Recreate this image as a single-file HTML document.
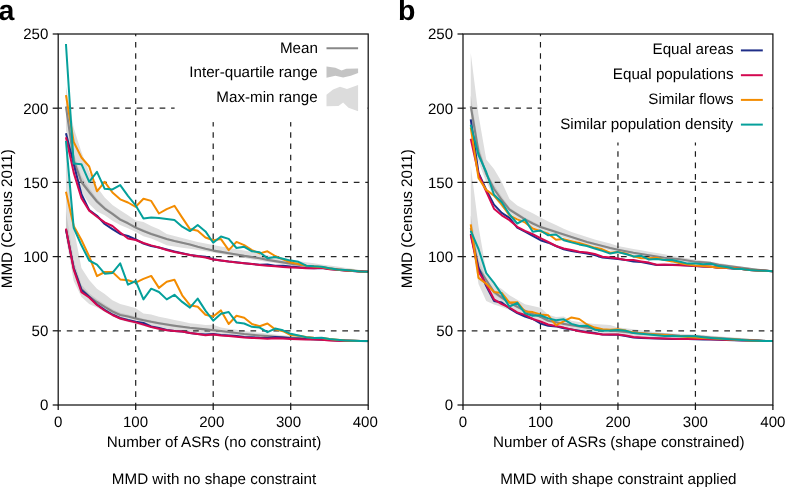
<!DOCTYPE html><html><head><meta charset="utf-8"><style>html,body{margin:0;padding:0;background:#fff;width:785px;height:487px;overflow:hidden}</style></head><body><svg width="785" height="487" viewBox="0 0 785 487" style="display:block;text-rendering:geometricPrecision"><rect width="785" height="487" fill="#fff"/><clipPath id="clipa"><rect x="58.2" y="34.0" width="310.00" height="371.0"/></clipPath><g clip-path="url(#clipa)"><path d="M65.95,86.00 L73.70,128.00 L81.45,152.00 L89.20,172.00 L96.95,187.00 L104.70,197.50 L112.45,205.00 L120.20,210.30 L127.95,215.30 L135.70,220.50 L143.45,222.00 L151.20,226.00 L158.95,229.20 L166.70,234.00 L174.45,236.00 L182.20,238.00 L189.95,240.00 L197.70,242.00 L205.45,243.50 L213.20,245.00 L220.95,246.40 L228.70,247.80 L236.45,249.20 L244.20,250.60 L251.95,252.00 L259.70,253.60 L267.45,255.20 L275.20,256.80 L282.95,258.40 L290.70,260.00 L298.45,261.10 L306.20,262.20 L313.95,263.30 L321.70,264.40 L329.45,265.50 L337.20,266.60 L344.95,267.70 L352.70,268.80 L360.45,269.90 L368.20,271.00 L368.20,272.20 L360.45,271.66 L352.70,271.12 L344.95,270.58 L337.20,270.04 L329.45,269.50 L321.70,268.70 L313.95,267.90 L306.20,267.10 L298.45,266.30 L290.70,265.50 L282.95,264.30 L275.20,263.10 L267.45,261.90 L259.70,260.70 L251.95,259.50 L244.20,258.12 L236.45,256.74 L228.70,255.36 L220.95,253.98 L213.20,252.60 L205.45,251.30 L197.70,250.00 L189.95,248.83 L182.20,247.67 L174.45,246.50 L166.70,245.30 L158.95,241.77 L151.20,238.50 L143.45,236.37 L135.70,231.90 L127.95,228.20 L120.20,225.10 L112.45,220.80 L104.70,215.30 L96.95,211.50 L89.20,204.00 L81.45,192.00 L73.70,172.00 L65.95,130.00Z" fill="#dedede"/><path d="M65.95,102.40 L73.70,153.60 L81.45,176.00 L89.20,188.00 L96.95,198.60 L104.70,206.38 L112.45,212.12 L120.20,217.74 L127.95,221.70 L135.70,226.18 L143.45,229.20 L151.20,232.40 L158.95,235.04 L166.70,238.00 L174.45,240.00 L182.20,241.84 L189.95,243.68 L197.70,245.84 L205.45,247.74 L213.20,249.48 L220.95,250.80 L228.70,252.12 L236.45,253.44 L244.20,254.84 L251.95,256.08 L259.70,257.36 L267.45,258.96 L275.20,260.24 L282.95,261.60 L290.70,262.88 L298.45,263.98 L306.20,265.00 L313.95,265.86 L321.70,266.64 L329.45,267.66 L337.20,268.68 L344.95,269.54 L352.70,270.24 L360.45,270.94 L368.20,271.56 L368.20,271.80 L360.45,271.29 L352.70,270.70 L344.95,270.12 L337.20,269.37 L329.45,268.46 L321.70,267.50 L313.95,266.78 L306.20,265.98 L298.45,265.02 L290.70,263.98 L282.95,262.78 L275.20,261.50 L267.45,260.30 L259.70,258.78 L251.95,257.58 L244.20,256.34 L236.45,254.95 L228.70,253.63 L220.95,252.32 L213.20,251.00 L205.45,249.30 L197.70,247.44 L189.95,245.45 L182.20,243.77 L174.45,242.10 L166.70,240.26 L158.95,237.55 L151.20,234.90 L143.45,232.07 L135.70,228.46 L127.95,224.28 L120.20,220.70 L112.45,215.28 L104.70,209.94 L96.95,203.50 L89.20,194.40 L81.45,184.00 L73.70,162.40 L65.95,111.20Z" fill="#cacaca"/><path d="M65.95,140.00 L73.70,228.00 L81.45,268.00 L89.20,280.00 L96.95,288.77 L104.70,294.00 L112.45,300.15 L120.20,304.00 L127.95,306.00 L135.70,308.20 L143.45,313.47 L151.20,314.40 L158.95,316.70 L166.70,318.35 L174.45,320.00 L182.20,321.60 L189.95,323.20 L197.70,324.05 L205.45,324.90 L213.20,324.70 L220.95,327.60 L228.70,328.70 L236.45,329.80 L244.20,330.90 L251.95,332.00 L259.70,332.80 L267.45,333.60 L275.20,334.40 L282.95,335.20 L290.70,336.00 L298.45,336.60 L306.20,337.20 L313.95,337.80 L321.70,338.40 L329.45,339.00 L337.20,339.36 L344.95,339.72 L352.70,340.08 L360.45,340.44 L368.20,340.80 L368.20,341.40 L360.45,341.26 L352.70,341.12 L344.95,340.98 L337.20,340.84 L329.45,340.70 L321.70,340.52 L313.95,340.34 L306.20,340.16 L298.45,339.98 L290.70,339.80 L282.95,339.44 L275.20,339.08 L267.45,338.72 L259.70,338.36 L251.95,338.00 L244.20,337.50 L236.45,337.00 L228.70,336.50 L220.95,336.00 L213.20,335.50 L205.45,334.80 L197.70,334.10 L189.95,333.40 L182.20,332.70 L174.45,332.00 L166.70,331.00 L158.95,330.00 L151.20,328.00 L143.45,326.00 L135.70,324.00 L127.95,322.00 L120.20,320.00 L112.45,316.00 L104.70,312.00 L96.95,307.50 L89.20,304.00 L81.45,297.00 L73.70,281.00 L65.95,238.00Z" fill="#dedede"/><path d="M65.95,211.20 L73.70,260.00 L81.45,284.80 L89.20,293.20 L96.95,299.35 L104.70,304.24 L112.45,309.23 L120.20,312.80 L127.95,314.40 L135.70,316.44 L143.45,318.85 L151.20,320.32 L158.95,321.90 L166.70,323.27 L174.45,324.56 L182.20,325.76 L189.95,326.88 L197.70,327.69 L205.45,328.50 L213.20,329.10 L220.95,330.32 L228.70,331.34 L236.45,332.36 L244.20,333.38 L251.95,334.24 L259.70,334.96 L267.45,335.60 L275.20,336.24 L282.95,336.80 L290.70,337.44 L298.45,337.96 L306.20,338.48 L313.95,338.92 L321.70,339.36 L329.45,339.80 L337.20,340.11 L344.95,340.42 L352.70,340.66 L360.45,340.89 L368.20,341.04 L368.20,341.16 L360.45,341.05 L352.70,340.86 L344.95,340.68 L337.20,340.41 L329.45,340.14 L321.70,339.78 L313.95,339.43 L306.20,339.07 L298.45,338.64 L290.70,338.20 L282.95,337.65 L275.20,337.18 L267.45,336.62 L259.70,336.07 L251.95,335.44 L244.20,334.70 L236.45,333.80 L228.70,332.90 L220.95,332.00 L213.20,331.26 L205.45,330.48 L197.70,329.70 L189.95,328.92 L182.20,327.98 L174.45,326.96 L166.70,325.80 L158.95,324.56 L151.20,323.04 L143.45,321.36 L135.70,319.60 L127.95,317.60 L120.20,316.00 L112.45,312.40 L104.70,307.84 L96.95,303.10 L89.20,298.00 L81.45,290.60 L73.70,270.60 L65.95,230.80Z" fill="#cacaca"/><line x1="135.70" y1="34.0" x2="135.70" y2="405.0" stroke="#1c1c1c" stroke-width="1.2" stroke-dasharray="5.6 5.67" stroke-dashoffset="3.27"/><line x1="213.20" y1="34.0" x2="213.20" y2="405.0" stroke="#1c1c1c" stroke-width="1.2" stroke-dasharray="5.6 5.67" stroke-dashoffset="3.27"/><line x1="290.70" y1="34.0" x2="290.70" y2="405.0" stroke="#1c1c1c" stroke-width="1.2" stroke-dasharray="5.6 5.67" stroke-dashoffset="3.27"/><line x1="58.2" y1="330.80" x2="368.2" y2="330.80" stroke="#262626" stroke-width="1.2" stroke-dasharray="5.7 5.78" stroke-dashoffset="2.9"/><line x1="58.2" y1="256.60" x2="368.2" y2="256.60" stroke="#262626" stroke-width="1.2" stroke-dasharray="5.7 5.78" stroke-dashoffset="2.9"/><line x1="58.2" y1="182.40" x2="368.2" y2="182.40" stroke="#262626" stroke-width="1.2" stroke-dasharray="5.7 5.78" stroke-dashoffset="2.9"/><line x1="58.2" y1="108.20" x2="368.2" y2="108.20" stroke="#262626" stroke-width="1.2" stroke-dasharray="5.7 5.78" stroke-dashoffset="1.9"/><path d="M65.95,106.50 L73.70,160.00 L81.45,182.00 L89.20,192.00 L96.95,201.50 L104.70,208.60 L112.45,213.90 L120.20,219.60 L127.95,223.30 L135.70,227.60 L143.45,231.00 L151.20,234.00 L158.95,236.50 L166.70,239.00 L174.45,241.00 L182.20,242.80 L189.95,244.60 L197.70,246.80 L205.45,248.80 L213.20,250.60 L220.95,251.90 L228.70,253.20 L236.45,254.50 L244.20,255.90 L251.95,257.10 L259.70,258.30 L267.45,259.90 L275.20,261.10 L282.95,262.40 L290.70,263.60 L298.45,264.70 L306.20,265.70 L313.95,266.50 L321.70,267.20 L329.45,268.20 L337.20,269.20 L344.95,270.00 L352.70,270.60 L360.45,271.20 L368.20,271.70" fill="none" stroke="#868686" stroke-width="2.1" stroke-linejoin="round"/><path d="M65.95,229.00 L73.70,268.00 L81.45,289.00 L89.20,296.50 L96.95,302.00 L104.70,306.80 L112.45,311.50 L120.20,315.00 L127.95,316.50 L135.70,318.50 L143.45,320.20 L151.20,321.80 L158.95,323.20 L166.70,324.50 L174.45,325.70 L182.20,326.80 L189.95,327.80 L197.70,328.60 L205.45,329.40 L213.20,330.20 L220.95,331.00 L228.70,332.00 L236.45,333.00 L244.20,334.00 L251.95,334.80 L259.70,335.50 L267.45,336.10 L275.20,336.70 L282.95,337.20 L290.70,337.80 L298.45,338.30 L306.20,338.80 L313.95,339.20 L321.70,339.60 L329.45,340.00 L337.20,340.30 L344.95,340.60 L352.70,340.80 L360.45,341.00 L368.20,341.10" fill="none" stroke="#868686" stroke-width="2.1" stroke-linejoin="round"/><path d="M65.95,133.20 L73.70,164.00 L81.45,194.20 L89.20,210.10 L96.95,215.80 L104.70,224.00 L112.45,229.10 L120.20,234.00 L127.95,236.00 L135.70,239.50 L143.45,243.50 L151.20,246.00 L158.95,247.50 L166.70,249.50 L174.45,251.50 L182.20,253.20 L189.95,255.00 L197.70,256.00 L205.45,256.80 L213.20,259.30 L220.95,260.50 L228.70,261.50 L236.45,262.30 L244.20,263.20 L251.95,264.00 L259.70,264.70 L267.45,264.60 L275.20,265.80 L282.95,265.80 L290.70,266.60 L298.45,267.20 L306.20,268.00 L313.95,268.20 L321.70,268.00 L329.45,269.00 L337.20,269.70 L344.95,270.40 L352.70,271.00 L360.45,271.40 L368.20,271.70" fill="none" stroke="#1f2e88" stroke-width="2" stroke-linejoin="round"/><path d="M65.95,137.30 L73.70,172.60 L81.45,198.30 L89.20,210.60 L96.95,216.80 L104.70,222.40 L112.45,226.00 L120.20,232.50 L127.95,238.50 L135.70,240.00 L143.45,243.00 L151.20,245.40 L158.95,247.50 L166.70,250.00 L174.45,252.00 L182.20,253.50 L189.95,255.00 L197.70,256.30 L205.45,257.50 L213.20,259.50 L220.95,260.50 L228.70,261.60 L236.45,262.50 L244.20,263.20 L251.95,264.00 L259.70,264.90 L267.45,265.70 L275.20,266.30 L282.95,267.00 L290.70,267.40 L298.45,267.80 L306.20,268.20 L313.95,268.20 L321.70,267.80 L329.45,269.20 L337.20,269.70 L344.95,270.50 L352.70,271.00 L360.45,271.40 L368.20,271.70" fill="none" stroke="#d40850" stroke-width="2" stroke-linejoin="round"/><path d="M65.95,95.20 L73.70,142.00 L81.45,157.50 L89.20,166.50 L96.95,191.30 L104.70,181.80 L112.45,192.50 L120.20,199.30 L127.95,202.50 L135.70,206.80 L143.45,198.70 L151.20,200.90 L158.95,213.50 L166.70,209.10 L174.45,205.80 L182.20,217.60 L189.95,229.10 L197.70,230.80 L205.45,237.50 L213.20,240.20 L220.95,239.10 L228.70,250.10 L236.45,241.90 L244.20,245.20 L251.95,250.10 L259.70,253.40 L267.45,251.30 L275.20,256.00 L282.95,259.30 L290.70,262.50 L298.45,264.10 L306.20,265.70 L313.95,266.50 L321.70,267.00 L329.45,268.40 L337.20,269.60 L344.95,270.20 L352.70,270.80 L360.45,271.40 L368.20,271.70" fill="none" stroke="#f38c00" stroke-width="2" stroke-linejoin="round"/><path d="M65.95,44.00 L73.70,163.60 L81.45,164.20 L89.20,181.80 L96.95,171.90 L104.70,188.80 L112.45,189.40 L120.20,185.10 L127.95,195.80 L135.70,205.50 L143.45,218.50 L151.20,217.60 L158.95,218.10 L166.70,219.00 L174.45,220.10 L182.20,226.70 L189.95,231.10 L197.70,225.00 L205.45,231.40 L213.20,242.70 L220.95,236.50 L228.70,238.90 L236.45,248.00 L244.20,246.80 L251.95,251.30 L259.70,252.20 L267.45,258.30 L275.20,257.10 L282.95,258.70 L290.70,260.60 L298.45,261.80 L306.20,265.70 L313.95,266.30 L321.70,266.70 L329.45,268.20 L337.20,269.50 L344.95,270.10 L352.70,270.80 L360.45,271.40 L368.20,271.70" fill="none" stroke="#05a09b" stroke-width="2" stroke-linejoin="round"/><path d="M65.95,229.50 L73.70,268.00 L81.45,290.00 L89.20,296.70 L96.95,304.50 L104.70,309.80 L112.45,314.50 L120.20,318.00 L127.95,320.00 L135.70,321.80 L143.45,323.00 L151.20,326.50 L158.95,328.00 L166.70,330.00 L174.45,331.00 L182.20,331.50 L189.95,333.00 L197.70,334.00 L205.45,334.50 L213.20,334.00 L220.95,335.00 L228.70,335.50 L236.45,336.00 L244.20,337.00 L251.95,337.30 L259.70,337.80 L267.45,338.00 L275.20,337.00 L282.95,337.50 L290.70,338.20 L298.45,338.50 L306.20,339.00 L313.95,339.30 L321.70,339.60 L329.45,340.00 L337.20,340.40 L344.95,340.60 L352.70,340.80 L360.45,341.00 L368.20,341.10" fill="none" stroke="#1f2e88" stroke-width="2" stroke-linejoin="round"/><path d="M65.95,228.60 L73.70,269.60 L81.45,292.20 L89.20,297.50 L96.95,305.00 L104.70,310.50 L112.45,315.00 L120.20,318.50 L127.95,320.60 L135.70,322.40 L143.45,324.60 L151.20,327.00 L158.95,328.70 L166.70,330.30 L174.45,331.00 L182.20,331.50 L189.95,333.00 L197.70,333.90 L205.45,335.20 L213.20,334.50 L220.95,335.50 L228.70,335.90 L236.45,336.70 L244.20,337.50 L251.95,337.90 L259.70,338.30 L267.45,338.70 L275.20,338.20 L282.95,338.60 L290.70,338.90 L298.45,339.20 L306.20,339.50 L313.95,339.60 L321.70,339.70 L329.45,340.50 L337.20,340.80 L344.95,341.00 L352.70,341.00 L360.45,341.10 L368.20,341.10" fill="none" stroke="#d40850" stroke-width="2" stroke-linejoin="round"/><path d="M65.95,191.80 L73.70,226.00 L81.45,240.00 L89.20,256.40 L96.95,276.10 L104.70,272.00 L112.45,272.00 L120.20,279.40 L127.95,280.20 L135.70,282.60 L143.45,278.90 L151.20,275.90 L158.95,287.90 L166.70,281.80 L174.45,279.70 L182.20,295.30 L189.95,305.20 L197.70,306.80 L205.45,314.70 L213.20,316.50 L220.95,310.40 L228.70,324.00 L236.45,315.80 L244.20,317.80 L251.95,324.00 L259.70,326.30 L267.45,323.50 L275.20,329.40 L282.95,331.20 L290.70,335.00 L298.45,335.70 L306.20,336.90 L313.95,337.80 L321.70,338.00 L329.45,339.00 L337.20,339.80 L344.95,340.50 L352.70,340.80 L360.45,341.00 L368.20,341.10" fill="none" stroke="#f38c00" stroke-width="2" stroke-linejoin="round"/><path d="M65.95,140.80 L73.70,227.80 L81.45,245.30 L89.20,260.50 L96.95,264.60 L104.70,273.70 L112.45,272.90 L120.20,263.30 L127.95,284.70 L135.70,281.00 L143.45,299.40 L151.20,288.70 L158.95,292.00 L166.70,299.40 L174.45,294.80 L182.20,301.90 L189.95,307.60 L197.70,298.60 L205.45,310.60 L213.20,320.70 L220.95,313.70 L228.70,312.00 L236.45,322.40 L244.20,323.50 L251.95,326.80 L259.70,327.60 L267.45,332.20 L275.20,328.60 L282.95,330.30 L290.70,333.80 L298.45,335.40 L306.20,337.20 L313.95,338.00 L321.70,337.80 L329.45,338.90 L337.20,339.70 L344.95,340.50 L352.70,340.80 L360.45,341.00 L368.20,341.10" fill="none" stroke="#05a09b" stroke-width="2" stroke-linejoin="round"/></g><rect x="174.6" y="33.4" width="193" height="88.7" fill="#fff"/><path d="M326.5,48.3H358.1" stroke="#888" stroke-width="2.1"/><path d="M326.5,66.5 L335.4,67.7 L341.6,70.4 L346.2,68.7 L358.1,68.5 L358.1,73.1 L350.8,75.8 L343.1,77.4 L335.4,75.8 L326.5,77.8Z" fill="#c4c4c4"/><path d="M326.5,94.7 L333.1,89.6 L340,86.7 L347,89 L358.1,85 L358.1,111.2 L348.5,107.8 L343.1,102.4 L338.5,106 L326.5,106.3Z" fill="#dcdcdc"/><g style="font-family:'Liberation Sans',Arial,sans-serif;font-size:15.2px" fill="#000" text-anchor="end"><text x="317.9" y="52.7">Mean</text><text x="317.6" y="77.2">Inter-quartile range</text><text x="317.6" y="101.9">Max-min range</text></g><rect x="58.2" y="34.0" width="310.00" height="371.0" fill="none" stroke="#141414" stroke-width="1.25"/><line x1="58.20" y1="405.0" x2="58.20" y2="410.0" stroke="#141414" stroke-width="1.25"/><line x1="135.70" y1="405.0" x2="135.70" y2="410.0" stroke="#141414" stroke-width="1.25"/><line x1="213.20" y1="405.0" x2="213.20" y2="410.0" stroke="#141414" stroke-width="1.25"/><line x1="290.70" y1="405.0" x2="290.70" y2="410.0" stroke="#141414" stroke-width="1.25"/><line x1="368.20" y1="405.0" x2="368.20" y2="410.0" stroke="#141414" stroke-width="1.25"/><line x1="52.70" y1="405.00" x2="58.2" y2="405.00" stroke="#141414" stroke-width="1.25"/><line x1="52.70" y1="330.80" x2="58.2" y2="330.80" stroke="#141414" stroke-width="1.25"/><line x1="52.70" y1="256.60" x2="58.2" y2="256.60" stroke="#141414" stroke-width="1.25"/><line x1="52.70" y1="182.40" x2="58.2" y2="182.40" stroke="#141414" stroke-width="1.25"/><line x1="52.70" y1="108.20" x2="58.2" y2="108.20" stroke="#141414" stroke-width="1.25"/><line x1="52.70" y1="34.00" x2="58.2" y2="34.00" stroke="#141414" stroke-width="1.25"/><g style="font-family:'Liberation Sans',Arial,sans-serif;font-size:15.05px" fill="#000"><text x="58.20" y="426.5" text-anchor="middle">0</text><text x="135.50" y="426.5" text-anchor="middle">100</text><text x="211.80" y="426.5" text-anchor="middle">200</text><text x="288.50" y="426.5" text-anchor="middle">300</text><text x="365.20" y="426.5" text-anchor="middle">400</text><text x="48.30" y="410.30" text-anchor="end">0</text><text x="48.30" y="336.10" text-anchor="end">50</text><text x="48.30" y="261.90" text-anchor="end">100</text><text x="48.30" y="187.70" text-anchor="end">150</text><text x="48.30" y="113.50" text-anchor="end">200</text><text x="48.30" y="39.30" text-anchor="end">250</text></g><clipPath id="clipb"><rect x="463.0" y="34.0" width="309.90" height="371.0"/></clipPath><g clip-path="url(#clipb)"><path d="M470.75,52.90 L478.50,115.00 L486.24,159.50 L493.99,169.00 L501.74,182.00 L509.49,199.00 L517.23,205.50 L524.98,209.60 L532.73,213.30 L540.48,217.50 L548.22,221.40 L555.97,225.00 L563.72,228.70 L571.47,232.00 L579.21,234.50 L586.96,237.00 L594.71,239.40 L602.45,241.50 L610.20,243.50 L617.95,246.00 L625.70,247.50 L633.44,249.00 L641.19,250.33 L648.94,251.67 L656.69,253.00 L664.43,254.33 L672.18,255.67 L679.93,257.00 L687.68,258.25 L695.42,259.50 L703.17,260.70 L710.92,261.90 L718.67,263.10 L726.41,264.30 L734.16,265.50 L741.91,266.60 L749.66,267.70 L757.40,268.80 L765.15,269.90 L772.90,271.00 L772.90,271.60 L765.15,270.88 L757.40,270.16 L749.66,269.44 L741.91,268.72 L734.16,268.00 L726.41,267.20 L718.67,266.40 L710.92,265.60 L703.17,264.80 L695.42,264.00 L687.68,262.90 L679.93,261.80 L672.18,260.70 L664.43,259.60 L656.69,258.50 L648.94,257.30 L641.19,256.10 L633.44,254.90 L625.70,253.70 L617.95,252.50 L610.20,250.40 L602.45,248.30 L594.71,246.20 L586.96,244.10 L579.21,242.00 L571.47,239.83 L563.72,237.67 L555.97,235.50 L548.22,233.00 L540.48,230.50 L532.73,227.00 L524.98,223.00 L517.23,218.00 L509.49,214.00 L501.74,207.00 L493.99,197.00 L486.24,182.00 L478.50,162.00 L470.75,128.00Z" fill="#dedede"/><path d="M470.75,95.54 L478.50,144.60 L486.24,171.10 L493.99,185.00 L501.74,196.40 L509.49,207.48 L517.23,212.70 L524.98,217.44 L532.73,221.46 L540.48,225.18 L548.22,227.96 L555.97,230.60 L563.72,233.34 L571.47,236.00 L579.21,238.50 L586.96,240.92 L594.71,243.08 L602.45,245.10 L610.20,247.10 L617.95,248.96 L625.70,250.46 L633.44,251.96 L641.19,253.27 L648.94,254.49 L656.69,255.80 L664.43,257.03 L672.18,257.93 L679.93,258.84 L687.68,260.05 L695.42,261.26 L703.17,261.98 L710.92,262.70 L718.67,264.46 L726.41,265.50 L734.16,266.54 L741.91,267.56 L749.66,268.58 L757.40,269.52 L765.15,270.38 L772.90,271.16 L772.90,271.28 L765.15,270.58 L757.40,269.79 L749.66,268.93 L741.91,267.98 L734.16,267.04 L726.41,266.08 L718.67,265.12 L710.92,263.44 L703.17,262.80 L695.42,262.16 L687.68,260.98 L679.93,259.80 L672.18,258.94 L664.43,258.08 L656.69,256.90 L648.94,255.62 L641.19,254.42 L633.44,253.14 L625.70,251.70 L617.95,250.26 L610.20,248.48 L602.45,246.46 L594.71,244.44 L586.96,242.34 L579.21,240.00 L571.47,237.57 L563.72,235.13 L555.97,232.70 L548.22,230.28 L540.48,227.78 L532.73,224.20 L524.98,220.12 L517.23,215.20 L509.49,210.48 L501.74,201.40 L493.99,190.60 L486.24,175.60 L478.50,154.00 L470.75,110.56Z" fill="#cacaca"/><path d="M470.75,165.80 L478.50,226.40 L486.24,271.00 L493.99,284.50 L501.74,289.00 L509.49,295.20 L517.23,299.70 L524.98,304.20 L532.73,306.00 L540.48,307.80 L548.22,314.70 L555.97,317.10 L563.72,316.50 L571.47,320.80 L579.21,322.00 L586.96,322.95 L594.71,323.90 L602.45,324.45 L610.20,325.00 L617.95,327.40 L625.70,328.35 L633.44,329.30 L641.19,330.25 L648.94,331.20 L656.69,332.15 L664.43,333.10 L672.18,333.43 L679.93,333.75 L687.68,334.07 L695.42,334.40 L703.17,335.02 L710.92,335.64 L718.67,336.26 L726.41,336.88 L734.16,337.50 L741.91,338.12 L749.66,338.74 L757.40,339.36 L765.15,339.98 L772.90,340.60 L772.90,341.40 L765.15,341.22 L757.40,341.04 L749.66,340.86 L741.91,340.68 L734.16,340.50 L726.41,340.30 L718.67,340.10 L710.92,339.90 L703.17,339.70 L695.42,339.50 L687.68,339.16 L679.93,338.82 L672.18,338.48 L664.43,338.14 L656.69,337.80 L648.94,337.24 L641.19,336.68 L633.44,336.12 L625.70,335.56 L617.95,335.00 L610.20,334.00 L602.45,333.00 L594.71,332.00 L586.96,331.00 L579.21,330.00 L571.47,328.50 L563.72,327.00 L555.97,324.83 L548.22,322.67 L540.48,320.50 L532.73,318.25 L524.98,316.00 L517.23,313.00 L509.49,310.00 L501.74,307.00 L493.99,304.50 L486.24,301.00 L478.50,284.00 L470.75,236.00Z" fill="#dedede"/><path d="M470.75,215.56 L478.50,259.68 L486.24,278.20 L493.99,290.42 L501.74,295.88 L509.49,301.12 L517.23,305.30 L524.98,309.48 L532.73,312.48 L540.48,315.00 L548.22,319.58 L555.97,321.26 L563.72,322.42 L571.47,324.32 L579.21,325.52 L586.96,326.67 L594.71,327.82 L602.45,328.73 L610.20,329.40 L617.95,330.44 L625.70,331.27 L633.44,332.18 L641.19,332.77 L648.94,333.28 L656.69,333.79 L664.43,334.30 L672.18,334.77 L679.93,335.31 L687.68,335.62 L695.42,335.92 L703.17,336.52 L710.92,337.13 L718.67,337.65 L726.41,338.18 L734.16,338.70 L741.91,339.22 L749.66,339.75 L757.40,340.19 L765.15,340.64 L772.90,340.92 L772.90,341.08 L765.15,340.88 L757.40,340.53 L749.66,340.17 L741.91,339.74 L734.16,339.30 L726.41,338.86 L718.67,338.42 L710.92,337.98 L703.17,337.46 L695.42,336.94 L687.68,336.63 L679.93,336.32 L672.18,335.78 L664.43,335.31 L656.69,334.92 L648.94,334.49 L641.19,334.06 L633.44,333.54 L625.70,332.71 L617.95,331.96 L610.20,331.20 L602.45,330.44 L594.71,329.44 L586.96,328.28 L579.21,327.12 L571.47,325.86 L563.72,324.52 L555.97,322.81 L548.22,321.17 L540.48,317.54 L532.73,314.93 L524.98,311.84 L517.23,307.96 L509.49,304.08 L501.74,299.48 L493.99,294.42 L486.24,284.20 L478.50,271.20 L470.75,229.60Z" fill="#cacaca"/><line x1="540.48" y1="34.0" x2="540.48" y2="405.0" stroke="#1c1c1c" stroke-width="1.2" stroke-dasharray="5.6 5.67" stroke-dashoffset="3.27"/><line x1="617.95" y1="34.0" x2="617.95" y2="405.0" stroke="#1c1c1c" stroke-width="1.2" stroke-dasharray="5.65 5.77" stroke-dashoffset="8.42"/><line x1="695.42" y1="34.0" x2="695.42" y2="405.0" stroke="#1c1c1c" stroke-width="1.2" stroke-dasharray="5.65 5.77" stroke-dashoffset="8.42"/><line x1="463.0" y1="330.80" x2="772.9" y2="330.80" stroke="#262626" stroke-width="1.2" stroke-dasharray="5.7 5.78" stroke-dashoffset="2.75"/><line x1="463.0" y1="256.60" x2="772.9" y2="256.60" stroke="#262626" stroke-width="1.2" stroke-dasharray="5.7 5.78" stroke-dashoffset="2.75"/><line x1="463.0" y1="182.40" x2="772.9" y2="182.40" stroke="#262626" stroke-width="1.2" stroke-dasharray="5.7 5.78" stroke-dashoffset="2.75"/><line x1="463.0" y1="108.20" x2="772.9" y2="108.20" stroke="#262626" stroke-width="1.2" stroke-dasharray="5.45 5.59" stroke-dashoffset="2.68"/><path d="M470.75,106.20 L478.50,152.00 L486.24,174.00 L493.99,189.00 L501.74,200.00 L509.49,209.60 L517.23,214.50 L524.98,219.40 L532.73,223.50 L540.48,227.10 L548.22,229.60 L555.97,232.00 L563.72,234.50 L571.47,237.00 L579.21,239.50 L586.96,241.90 L594.71,244.00 L602.45,246.00 L610.20,248.00 L617.95,249.70 L625.70,251.20 L633.44,252.70 L641.19,254.00 L648.94,255.20 L656.69,256.50 L664.43,257.70 L672.18,258.50 L679.93,259.30 L687.68,260.50 L695.42,261.70 L703.17,262.30 L710.92,262.90 L718.67,264.80 L726.41,265.80 L734.16,266.80 L741.91,267.80 L749.66,268.80 L757.40,269.70 L765.15,270.50 L772.90,271.20" fill="none" stroke="#868686" stroke-width="2.1" stroke-linejoin="round"/><path d="M470.75,228.00 L478.50,268.00 L486.24,280.00 L493.99,291.90 L501.74,297.60 L509.49,302.60 L517.23,306.70 L524.98,310.80 L532.73,314.10 L540.48,316.80 L548.22,320.80 L555.97,322.30 L563.72,323.90 L571.47,325.20 L579.21,326.40 L586.96,327.60 L594.71,328.80 L602.45,329.80 L610.20,330.50 L617.95,331.20 L625.70,332.00 L633.44,332.90 L641.19,333.40 L648.94,333.80 L656.69,334.20 L664.43,334.60 L672.18,335.10 L679.93,335.70 L687.68,336.00 L695.42,336.30 L703.17,336.90 L710.92,337.50 L718.67,338.00 L726.41,338.50 L734.16,339.00 L741.91,339.50 L749.66,340.00 L757.40,340.40 L765.15,340.80 L772.90,341.00" fill="none" stroke="#868686" stroke-width="2.1" stroke-linejoin="round"/><path d="M470.75,119.30 L478.50,173.00 L486.24,190.00 L493.99,204.60 L501.74,212.90 L509.49,217.80 L517.23,227.60 L524.98,231.70 L532.73,235.90 L540.48,240.20 L548.22,242.70 L555.97,246.00 L563.72,249.30 L571.47,250.90 L579.21,252.20 L586.96,253.40 L594.71,255.00 L602.45,257.50 L610.20,258.30 L617.95,258.90 L625.70,260.00 L633.44,261.40 L641.19,262.00 L648.94,263.50 L656.69,265.10 L664.43,264.90 L672.18,264.70 L679.93,265.00 L687.68,265.50 L695.42,266.10 L703.17,266.50 L710.92,266.80 L718.67,267.80 L726.41,268.00 L734.16,268.50 L741.91,269.00 L749.66,269.90 L757.40,270.60 L765.15,270.80 L772.90,271.20" fill="none" stroke="#1f2e88" stroke-width="2" stroke-linejoin="round"/><path d="M470.75,138.70 L478.50,174.00 L486.24,191.50 L493.99,208.70 L501.74,215.30 L509.49,220.20 L517.23,226.80 L524.98,230.90 L532.73,234.20 L540.48,238.10 L548.22,241.90 L555.97,246.00 L563.72,248.50 L571.47,250.10 L579.21,251.70 L586.96,252.60 L594.71,253.90 L602.45,256.70 L610.20,257.50 L617.95,258.50 L625.70,260.10 L633.44,260.10 L641.19,261.40 L648.94,262.60 L656.69,264.70 L664.43,264.40 L672.18,265.10 L679.93,265.20 L687.68,265.50 L695.42,266.10 L703.17,266.50 L710.92,266.80 L718.67,267.80 L726.41,268.00 L734.16,268.50 L741.91,269.00 L749.66,269.90 L757.40,270.60 L765.15,270.80 L772.90,271.20" fill="none" stroke="#d40850" stroke-width="2" stroke-linejoin="round"/><path d="M470.75,127.60 L478.50,178.00 L486.24,189.90 L493.99,195.60 L501.74,204.60 L509.49,215.30 L517.23,219.40 L524.98,222.40 L532.73,228.50 L540.48,231.20 L548.22,233.70 L555.97,239.80 L563.72,239.10 L571.47,241.10 L579.21,243.00 L586.96,245.20 L594.71,247.60 L602.45,249.30 L610.20,252.70 L617.95,251.90 L625.70,253.40 L633.44,256.40 L641.19,258.30 L648.94,258.30 L656.69,257.70 L664.43,260.10 L672.18,261.40 L679.93,263.20 L687.68,264.50 L695.42,265.50 L703.17,266.10 L710.92,266.80 L718.67,267.80 L726.41,267.80 L734.16,268.30 L741.91,269.00 L749.66,269.90 L757.40,270.60 L765.15,270.80 L772.90,271.20" fill="none" stroke="#f38c00" stroke-width="2" stroke-linejoin="round"/><path d="M470.75,124.80 L478.50,155.00 L486.24,172.00 L493.99,194.80 L501.74,202.20 L509.49,214.50 L517.23,223.50 L524.98,219.40 L532.73,231.70 L540.48,230.50 L548.22,235.30 L555.97,234.50 L563.72,240.20 L571.47,242.40 L579.21,244.40 L586.96,246.00 L594.71,248.50 L602.45,250.90 L610.20,253.60 L617.95,252.10 L625.70,254.00 L633.44,256.40 L641.19,255.80 L648.94,259.50 L656.69,258.90 L664.43,260.10 L672.18,260.10 L679.93,261.70 L687.68,263.60 L695.42,263.60 L703.17,264.20 L710.92,263.80 L718.67,266.10 L726.41,267.00 L734.16,268.70 L741.91,269.00 L749.66,269.90 L757.40,270.60 L765.15,270.80 L772.90,271.20" fill="none" stroke="#05a09b" stroke-width="2" stroke-linejoin="round"/><path d="M470.75,234.00 L478.50,268.00 L486.24,286.00 L493.99,300.90 L501.74,302.60 L509.49,308.30 L517.23,313.20 L524.98,316.50 L532.73,319.00 L540.48,323.50 L548.22,325.70 L555.97,326.40 L563.72,328.20 L571.47,329.40 L579.21,330.70 L586.96,331.90 L594.71,333.10 L602.45,334.40 L610.20,334.80 L617.95,334.80 L625.70,336.00 L633.44,337.60 L641.19,337.90 L648.94,338.20 L656.69,338.50 L664.43,338.70 L672.18,338.90 L679.93,339.00 L687.68,339.10 L695.42,339.20 L703.17,339.40 L710.92,339.60 L718.67,339.80 L726.41,340.00 L734.16,340.20 L741.91,340.40 L749.66,340.60 L757.40,340.80 L765.15,341.00 L772.90,341.00" fill="none" stroke="#1f2e88" stroke-width="2" stroke-linejoin="round"/><path d="M470.75,235.00 L478.50,271.40 L486.24,284.50 L493.99,299.30 L501.74,304.20 L509.49,307.50 L517.23,312.40 L524.98,314.90 L532.73,319.00 L540.48,321.50 L548.22,324.50 L555.97,326.00 L563.72,327.60 L571.47,329.40 L579.21,331.30 L586.96,332.50 L594.71,333.40 L602.45,334.40 L610.20,334.40 L617.95,334.40 L625.70,335.50 L633.44,336.90 L641.19,337.40 L648.94,338.00 L656.69,338.20 L664.43,338.50 L672.18,338.70 L679.93,338.90 L687.68,338.90 L695.42,338.90 L703.17,339.10 L710.92,339.30 L718.67,339.50 L726.41,339.70 L734.16,340.00 L741.91,340.30 L749.66,340.60 L757.40,340.80 L765.15,341.00 L772.90,341.00" fill="none" stroke="#d40850" stroke-width="2" stroke-linejoin="round"/><path d="M470.75,224.40 L478.50,277.90 L486.24,283.70 L493.99,291.90 L501.74,293.00 L509.49,302.60 L517.23,302.20 L524.98,311.60 L532.73,312.10 L540.48,314.40 L548.22,315.30 L555.97,325.10 L563.72,321.40 L571.47,317.40 L579.21,319.00 L586.96,324.50 L594.71,327.60 L602.45,329.20 L610.20,329.80 L617.95,329.30 L625.70,330.60 L633.44,332.50 L641.19,333.30 L648.94,334.10 L656.69,334.60 L664.43,335.00 L672.18,335.70 L679.93,336.30 L687.68,337.00 L695.42,337.60 L703.17,337.90 L710.92,338.30 L718.67,338.70 L726.41,339.20 L734.16,339.60 L741.91,340.00 L749.66,340.40 L757.40,340.70 L765.15,341.00 L772.90,341.00" fill="none" stroke="#f38c00" stroke-width="2" stroke-linejoin="round"/><path d="M470.75,230.90 L478.50,249.00 L486.24,273.00 L493.99,282.90 L501.74,294.40 L509.49,306.70 L517.23,302.90 L524.98,313.20 L532.73,315.70 L540.48,315.30 L548.22,318.40 L555.97,320.20 L563.72,319.30 L571.47,323.90 L579.21,326.00 L586.96,325.70 L594.71,329.70 L602.45,330.70 L610.20,330.60 L617.95,329.90 L625.70,330.80 L633.44,333.10 L641.19,333.80 L648.94,334.60 L656.69,335.30 L664.43,335.90 L672.18,336.10 L679.93,336.30 L687.68,336.30 L695.42,336.30 L703.17,337.30 L710.92,337.90 L718.67,338.50 L726.41,339.00 L734.16,339.50 L741.91,340.00 L749.66,340.50 L757.40,340.80 L765.15,341.00 L772.90,341.00" fill="none" stroke="#05a09b" stroke-width="2" stroke-linejoin="round"/></g><rect x="541.5" y="33.4" width="230.8" height="109.1" fill="#fff"/><path d="M740.9,50.4H762.8" stroke="#1f2e88" stroke-width="2"/><path d="M740.9,75.2H762.8" stroke="#d40850" stroke-width="2"/><path d="M740.9,99.9H762.8" stroke="#f38c00" stroke-width="2"/><path d="M740.9,124.6H762.8" stroke="#05a09b" stroke-width="2"/><g style="font-family:'Liberation Sans',Arial,sans-serif;font-size:15.2px" fill="#000" text-anchor="end"><text x="733.6" y="54.4">Equal areas</text><text x="733.6" y="79.2">Equal populations</text><text x="733.6" y="103.9">Similar flows</text><text x="733.2" y="128.6">Similar population density</text></g><rect x="463.0" y="34.0" width="309.90" height="371.0" fill="none" stroke="#141414" stroke-width="1.25"/><line x1="463.00" y1="405.0" x2="463.00" y2="410.0" stroke="#141414" stroke-width="1.25"/><line x1="540.48" y1="405.0" x2="540.48" y2="410.0" stroke="#141414" stroke-width="1.25"/><line x1="617.95" y1="405.0" x2="617.95" y2="410.0" stroke="#141414" stroke-width="1.25"/><line x1="695.42" y1="405.0" x2="695.42" y2="410.0" stroke="#141414" stroke-width="1.25"/><line x1="772.90" y1="405.0" x2="772.90" y2="410.0" stroke="#141414" stroke-width="1.25"/><line x1="457.50" y1="405.00" x2="463.0" y2="405.00" stroke="#141414" stroke-width="1.25"/><line x1="457.50" y1="330.80" x2="463.0" y2="330.80" stroke="#141414" stroke-width="1.25"/><line x1="457.50" y1="256.60" x2="463.0" y2="256.60" stroke="#141414" stroke-width="1.25"/><line x1="457.50" y1="182.40" x2="463.0" y2="182.40" stroke="#141414" stroke-width="1.25"/><line x1="457.50" y1="108.20" x2="463.0" y2="108.20" stroke="#141414" stroke-width="1.25"/><line x1="457.50" y1="34.00" x2="463.0" y2="34.00" stroke="#141414" stroke-width="1.25"/><g style="font-family:'Liberation Sans',Arial,sans-serif;font-size:15.05px" fill="#000"><text x="463.00" y="426.5" text-anchor="middle">0</text><text x="540.48" y="426.5" text-anchor="middle">100</text><text x="617.95" y="426.5" text-anchor="middle">200</text><text x="695.42" y="426.5" text-anchor="middle">300</text><text x="772.90" y="426.5" text-anchor="middle">400</text><text x="453.10" y="410.30" text-anchor="end">0</text><text x="453.10" y="336.10" text-anchor="end">50</text><text x="453.10" y="261.90" text-anchor="end">100</text><text x="453.10" y="187.70" text-anchor="end">150</text><text x="453.10" y="113.50" text-anchor="end">200</text><text x="453.10" y="39.30" text-anchor="end">250</text></g><g style="font-family:'Liberation Sans',Arial,sans-serif;font-size:15.2px" fill="#000"><text transform="translate(12.2,218.7) rotate(-90)" text-anchor="middle">MMD (Census 2011)</text><text transform="translate(412.0,218.7) rotate(-90)" text-anchor="middle">MMD (Census 2011)</text><text x="214.00" y="447" text-anchor="middle">Number of ASRs (no constraint)</text><text x="618.75" y="447" text-anchor="middle">Number of ASRs (shape constrained)</text><text x="214.00" y="483.8" text-anchor="middle">MMD with no shape constraint</text><text x="618.35" y="483.8" text-anchor="middle">MMD with shape constraint applied</text></g><g style="font-family:'Liberation Sans',Arial,sans-serif;font-size:28.5px;font-weight:bold" fill="#000"><text x="-1.5" y="20.3">a</text><text x="398" y="20.4">b</text></g></svg></body></html>
